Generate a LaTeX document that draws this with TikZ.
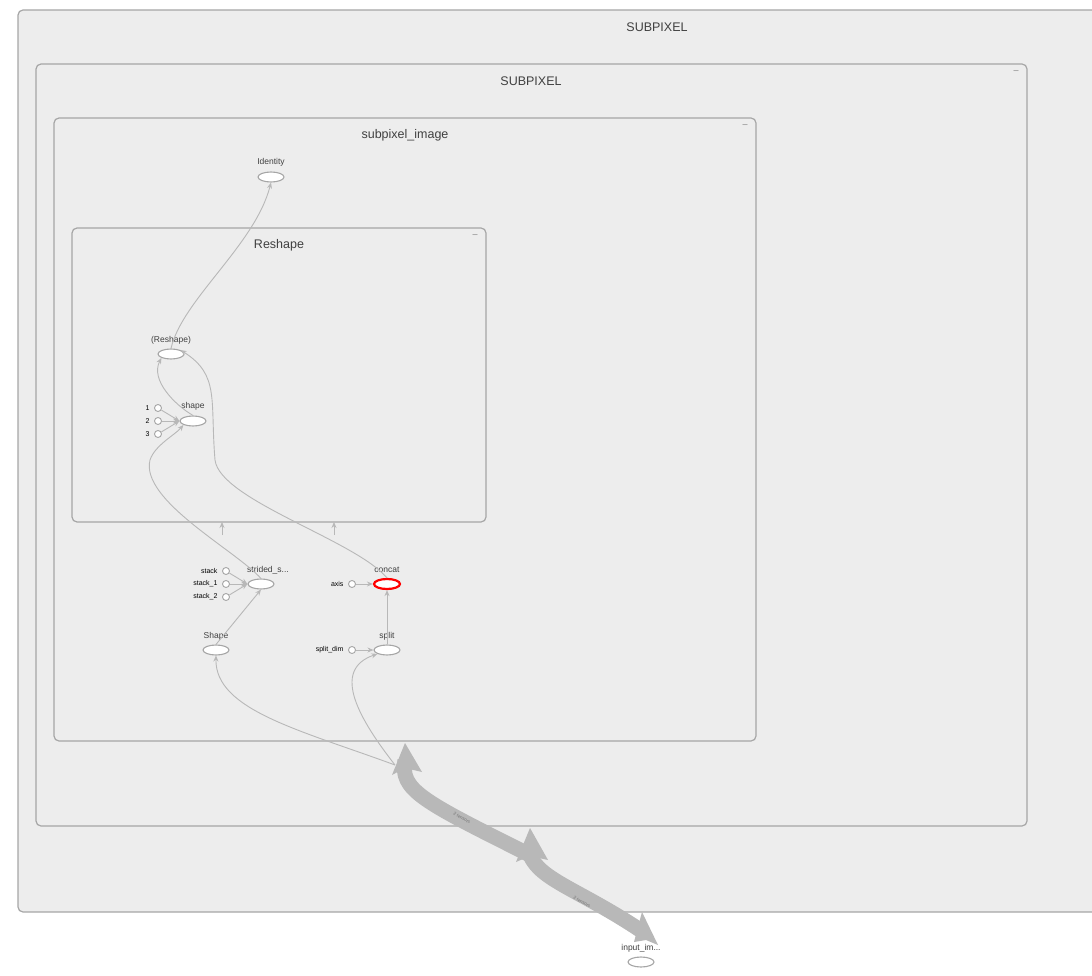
\documentclass[tikz,border=0pt]{standalone}
\usepackage{fontspec}
\setmainfont{Liberation Sans}
\usetikzlibrary{arrows.meta,shapes.geometric}
\begin{document}
\begin{tikzpicture}[x=1pt,y=-1pt,
  grp/.style={draw=black!35,line width=1.2pt,fill=black!7,rounded corners=5pt},
  ttl/.style={font=\fontsize{12.5}{12.5}\selectfont,text=black!75},
  op/.style={draw=black!35,line width=1.1pt,fill=white,ellipse,minimum width=26pt,minimum height=10pt,inner sep=0pt},
  cst/.style={draw=black!35,line width=0.9pt,fill=white,circle,minimum size=7pt,inner sep=0pt},
  lbl/.style={font=\fontsize{8.5}{8.5}\selectfont,text=black!75},
  sl/.style={font=\fontsize{7}{7}\selectfont},
  mn/.style={text=black!50,font=\fontsize{9}{9}\selectfont},
  ed/.style={draw=black!28,line width=0.9pt,-{Stealth[length=6pt,width=5pt]}},
  big/.style={draw=black!28,line width=15pt},
  tri/.style={fill=black!28,draw=none}]
\useasboundingbox (0,0) rectangle (1092,976);
\fill[white] (0,0) rectangle (1092,976);
\draw[grp] (18,10) rectangle (1110,912);
\node[ttl] (t1) at (657,27) {SUBPIXEL};
\draw[grp] (36,64) rectangle (1027,826);
\node[ttl] (t2) at (531,81) {SUBPIXEL};
\node[mn] (m2) at (1016,72) {–};
\draw[grp] (54,118) rectangle (756,741);
\node[ttl] (t3) at (405,135) {subpixel\_image};
\node[mn] (m3) at (745,126) {–};
\draw[grp] (72,228) rectangle (486,522);
\node[ttl] (t4) at (279,245) {Reshape};
\node[mn] (m4) at (475,236) {–};
% ops
\node[op] (id) at (271,177) {}; \node[lbl] at (271,162) {Identity};
\node[op] (rs) at (171,354) {}; \node[lbl] at (171,340) {(Reshape)};
\node[op] (sh) at (193,421) {}; \node[lbl] at (193,406) {shape};
\node[op] (ss) at (261,584) {}; \node[lbl] at (268,570) {strided\_s...};
\node[op,draw=red,line width=2.2pt] (cc) at (387,584) {}; \node[lbl] at (387,570) {concat};
\node[op] (Sh) at (216,650) {}; \node[lbl] at (216,636) {Shape};
\node[op] (sp) at (387,650) {}; \node[lbl] at (387,636) {split};
\node[op] (in) at (641,962) {}; \node[lbl] at (641,948) {input\_im...};
% consts
\node[cst] (c1) at (158,408) {}; \node[sl,anchor=east] at (153,408) {1};
\node[cst] (c2) at (158,421) {}; \node[sl,anchor=east] at (153,421) {2};
\node[cst] (c3) at (158,434) {}; \node[sl,anchor=east] at (153,434) {3};
\node[cst] (s0) at (226,571) {}; \node[sl,anchor=east] at (221,571) {stack};
\node[cst] (s1) at (226,584) {}; \node[sl,anchor=east] at (221,584) {stack\_1};
\node[cst] (s2) at (226,597) {}; \node[sl,anchor=east] at (221,597) {stack\_2};
\node[cst] (ax) at (352,584) {}; \node[sl,anchor=east] at (347,584) {axis};
\node[cst] (sd) at (352,650) {}; \node[sl,anchor=east] at (347,650) {split\_dim};
\foreach \c/\t in {c1/sh,c2/sh,c3/sh,s0/ss,s1/ss,s2/ss}{\draw[ed] (\c) -- (\t.west);}
\draw[ed] (ax) -- (cc); \draw[ed] (sd) -- (sp);
% edges
\draw[ed] (rs.north) .. controls (182,300) and (255,245) .. (id.south);
\draw[ed] (sh.north) .. controls (175,405) and (150,380) .. (rs.south west);
\draw[ed] (ss.north) .. controls (235,550) and (140,500) .. (150,460) .. controls (155,445) and (175,435) .. (sh.south west);
\draw[ed] (222,535)--(222,522);
\draw[ed] (cc.north) .. controls (355,540) and (220,500) .. (215,460) .. controls (210,400) and (220,375) .. (rs.north east);
\draw[ed] (334,535)--(334,522);
\draw[ed] (Sh.north) -- (ss.south);
\draw[ed] (sp.north) -- (cc.south);
\coordinate (j1) at (395,765);
\draw[ed] (j1) .. controls (300,730) and (215,710) .. (Sh.south);
\draw[ed] (j1) .. controls (360,720) and (330,670) .. (sp.south west);
% big edge
\coordinate (b2) at (530,855);
\draw[big] (405,760) .. controls (400,790) and (420,800) .. (b2);
\draw[big] (b2) .. controls (540,880) and (580,890) .. (640,930);
\fill[tri] (405,743) -- (392,775) -- (405,768) -- (422,772) -- cycle;
\fill[tri] (530,828) -- (516,862) -- (530,856) -- (548,860) -- cycle;
\fill[tri] (642,912) -- (634,942) -- (646,940) -- (658,945) -- cycle;
\node[rotate=-30,text=black!55,font=\fontsize{4.5}{4.5}\selectfont] at (462,818) {2 tensors};
\node[rotate=-30,text=black!55,font=\fontsize{4.5}{4.5}\selectfont] at (582,902) {2 tensors};
\end{tikzpicture}
\end{document}
